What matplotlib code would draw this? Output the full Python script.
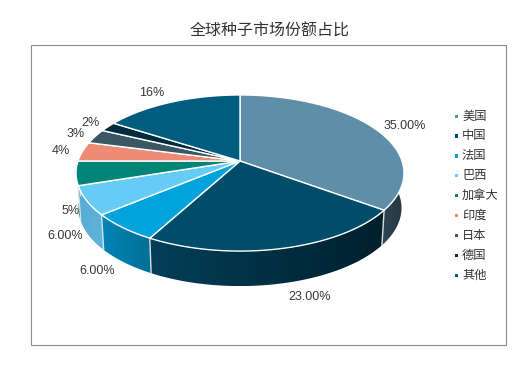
import matplotlib
matplotlib.use("Agg")
import matplotlib.pyplot as plt
import numpy as np
from matplotlib.colors import LinearSegmentedColormap
from matplotlib.patches import Polygon, Rectangle

plt.rcParams['font.family'] = ['Noto Sans CJK SC', 'DejaVu Sans']

# 数据
names = ['美国', '中国', '法国', '巴西', '加拿大', '印度', '日本', '德国', '其他']
values = [35, 23, 6, 6, 5, 4, 3, 2, 16]
labels = ['35.00%', '23.00%', '6.00%', '6.00%', '5%', '4%', '3%', '2%', '16%']

# 样式
colors = ['#5f8fa8', '#004d6b', '#00a3dc', '#66ccf5', '#008578',
          '#ed8b75', '#3a5763', '#012c3e', '#005d80']
wall_left = ['#2f4653', '#033f58', '#0085b4', '#55acd4', '#006e63',
             '#c47361', '#304852', '#012433', '#004d6a']
wall_right = ['#233641', '#00202e', '#006f96', '#5fb4dc', '#006e63',
              '#c47361', '#304852', '#012433', '#004d6a']
label_pos = [(405, 126), (310, 297), (97, 271), (65, 236), (71, 211),
             (61, 151), (76, 134), (90, 123), (152, 93)]

cx, cy = 240, 161      # 饼图圆心（像素）
rx, ry = 162, 76.2     # 半轴
k = 0.154              # 透视系数
depth = 35             # 厚度
shrink = 0.985         # 底面收缩


def rim(t):
    # t为从正上方顺时针的角度，返回顶面边缘的像素坐标
    X, Y = np.sin(t), np.cos(t)
    d = 1 + k * Y
    return cx + rx * X / d, cy - ry * Y / d


fig = plt.figure(figsize=(5.27, 3.69), dpi=100, facecolor='white')
ax = fig.add_axes([0, 0, 1, 1])
ax.set_axis_off()

# 外框
ax.add_patch(Rectangle((31, 45), 475, 300, fill=False, edgecolor='#8c8c8c', linewidth=0.8))

bounds = 2 * np.pi * np.cumsum([0] + values) / sum(values)

# 侧面
for i in range(len(values)):
    t0 = max(bounds[i], np.radians(80))
    t1 = min(bounds[i + 1], np.radians(280))
    if t1 <= t0:
        continue
    t = np.linspace(t0, t1, 80)
    x, y = rim(t)
    xb = cx + (x - cx) * shrink
    yb = y + depth
    pts = np.column_stack([np.r_[x, xb[::-1]], np.r_[y, yb[::-1]]])
    poly = Polygon(pts, closed=True, facecolor='none', edgecolor='none', zorder=2)
    ax.add_patch(poly)
    # 左右方向的渐变
    cmap = LinearSegmentedColormap.from_list('w', [wall_left[i], wall_right[i]])
    im = ax.imshow(np.linspace(0, 1, 64).reshape(1, -1), cmap=cmap, aspect='auto',
                   extent=(pts[:, 0].min(), pts[:, 0].max(), pts[:, 1].max(), pts[:, 1].min()),
                   zorder=2)
    im.set_clip_path(poly)
    # 分隔线
    if t0 > np.radians(80):
        ax.plot([x[0], xb[0]], [y[0], yb[0]], color='#d5e0e6', lw=1, zorder=3)

# 顶面
for i in range(len(values)):
    t = np.linspace(bounds[i], bounds[i + 1], 120)
    x, y = rim(t)
    ax.add_patch(Polygon(np.column_stack([np.r_[cx, x], np.r_[cy, y]]), closed=True,
                         facecolor=colors[i], edgecolor='white', linewidth=1,
                         joinstyle='round', zorder=4))

# 数据标签
for s, (lx, ly) in zip(labels, label_pos):
    ax.text(lx, ly, s, ha='center', va='center', fontsize=9, color='#383838',
            family=['Liberation Sans', 'DejaVu Sans'], zorder=5)

# 图例
for i, name in enumerate(names):
    ly = 116 + i * 19.9
    ax.add_patch(Rectangle((455, ly - 1.5), 3.2, 3.2, facecolor=colors[i], edgecolor='none', zorder=5))
    ax.text(462, ly, name, ha='left', va='center', fontsize=8.8, color='#333333', zorder=5)

ax.text(269.5, 31.5, '全球种子市场份额占比', ha='center', va='center', fontsize=11.5, color='#333333')

ax.set_xlim(0, 527)
ax.set_ylim(369, 0)
fig.savefig('out.png', dpi=100)
